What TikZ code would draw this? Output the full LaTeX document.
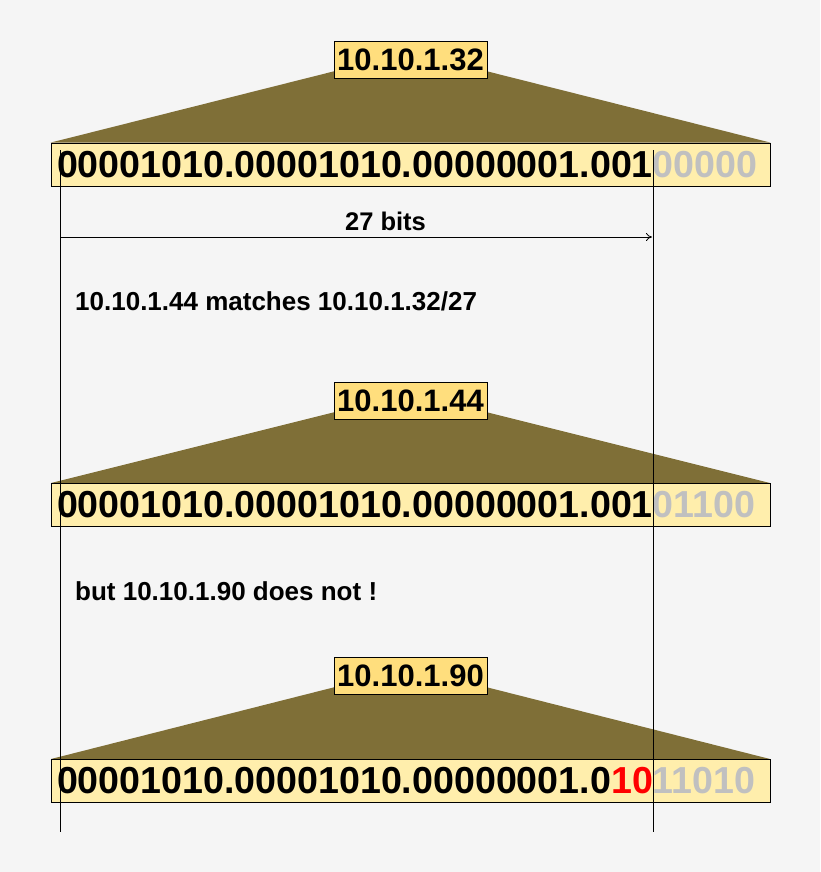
\documentclass[tikz,border=0pt]{standalone}
\usepackage{fontspec}
\setmainfont{Liberation Sans}
\usetikzlibrary{arrows.meta,backgrounds}
\definecolor{bgcol}{RGB}{245,245,245}
\definecolor{ipfill}{RGB}{255,222,125}
\definecolor{bitfill}{RGB}{255,238,172}
\definecolor{slopecol}{RGB}{127,111,55}
\definecolor{hostgray}{RGB}{192,192,192}
\definecolor{diffred}{RGB}{255,0,0}

\begin{document}
\begin{tikzpicture}[x=1pt,y=-1pt,
    ip/.style={draw,fill=ipfill,line width=0.8pt,minimum width=153pt,minimum height=37pt,
      inner xsep=0pt,inner ysep=0pt,font=\bfseries\fontsize{31}{33}\selectfont},
    bits/.style={draw,fill=bitfill,line width=0.8pt,minimum width=719pt,minimum height=43pt,
      text width=707pt,align=left,inner xsep=6pt,inner ysep=0pt,
      font=\bfseries\fontsize{37.6}{40}\selectfont},
    slope/.style={fill=slopecol},
    remark/.style={anchor=base west,inner sep=0pt,font=\bfseries\fontsize{26}{28}\selectfont}]
      \useasboundingbox (0,0) rectangle (820,872);
      \node [ip] (ip1) at (410.5,59.5) {10.10.1.32};
      \node [bits] (b1) at (410.5,164.5) {00001010.00001010.00000001.001\textcolor{hostgray}{00000}};
      \node [ip] (ip2) at (410.5,400.5) {10.10.1.44};
      \node [bits] (b2) at (410.5,505) {00001010.00001010.00000001.001\textcolor{hostgray}{01100}};
      \node [ip] (ip3) at (410.5,675.5) {10.10.1.90};
      \node [bits] (b3) at (410.5,781) {00001010.00001010.00000001.0\textcolor{diffred}{10}\textcolor{hostgray}{11010}};
      \begin{scope}[on background layer]
        \fill [bgcol] (0,0) rectangle (820,872);
        \foreach \i in {1,2,3}
          \fill [slope] ([yshift=7pt]ip\i.south west) -- ([yshift=7pt]ip\i.south east)
            -- (b\i.north east) -- (b\i.north west) -- cycle;
      \end{scope}
      \node [remark] (match) at (75,310) {10.10.1.44 matches 10.10.1.32/27};
      \node [remark] (nomatch) at (75,600) {but 10.10.1.90 does not !};
      \coordinate (ltop) at (60,150);
      \coordinate (lbot) at (60,832);
      \coordinate (rtop) at (653,150);
      \coordinate (rbot) at (653,832);
      \coordinate (astart) at (60,237);
      \coordinate (aend) at (652,237);
      \draw [line width=0.8pt] (ltop) -- (lbot);
      \draw [line width=0.8pt] (rtop) -- (rbot);
      \draw [line width=0.8pt,-{To[length=6pt,width=8pt]}] (astart) -- (aend);
      \node [remark,anchor=base,font=\bfseries\fontsize{25.5}{27}\selectfont] (len) at (385.5,230) {27 bits};
\end{tikzpicture}
\end{document}
